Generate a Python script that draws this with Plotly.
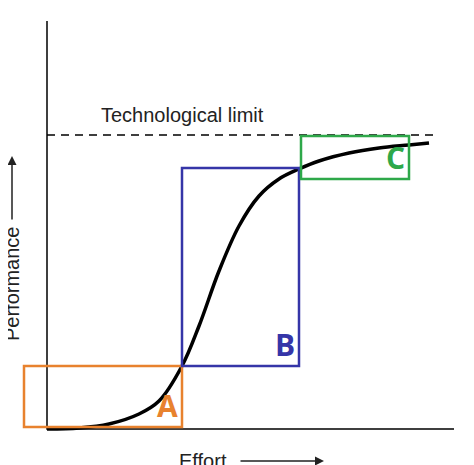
import plotly.graph_objects as go

# data in pixel-like units: x = effort, y = performance (origin at axes corner)
effort = [0, 32, 62, 92, 112, 135, 152, 172, 192, 212, 232, 252, 272, 302, 332, 362, 382]
performance = [0, 1, 5, 15, 28, 63, 103, 158, 203, 233, 250, 260, 268, 276, 281, 284, 286]
limit = 294
boxes = [  # x0, x1, y0, y1, color, label
    (-23, 135, 2, 63, "#E8822E", "A"),
    (135, 252, 63, 261, "#3535A8", "B"),
    (254, 362, 250, 293, "#2EA84A", "C"),
]

F = "Liberation Sans"
fig = go.Figure()
fig.add_trace(go.Scatter(x=effort, y=performance, mode="lines", line=dict(color="black", width=3.5, shape="spline"), hoverinfo="skip"))
fig.add_trace(go.Scatter(x=[0, 392], y=[limit, limit], mode="lines", line=dict(color="black", width=1.3, dash="8px,6px"), hoverinfo="skip"))
fig.add_trace(go.Scatter(x=[0, 0, 407], y=[408, 0, 0], mode="lines", line=dict(color="black", width=1.5), hoverinfo="skip"))
for x0, x1, y0, y1, c, lab in boxes:
    fig.add_shape(type="rect", x0=x0, x1=x1, y0=y0, y1=y1, line=dict(color=c, width=2.5))
    fig.add_annotation(x=x1 - 2, y=y0 - 1, text="<b>" + lab + "</b>", showarrow=False, xanchor="right", yanchor="bottom",
                       font=dict(size=30, color=c, family="Open Sans"))
fig.add_annotation(x=52, y=314, text="Technological limit", showarrow=False, xanchor="left",
                   font=dict(size=20, color="#222", family=F))
fig.add_annotation(x=156, y=-32, text="Effort", showarrow=False, font=dict(size=20, color="#222", family=F))
fig.add_annotation(x=277, y=-32, ax=192, ay=-32, xref="x", yref="y", axref="x", ayref="y", text="",
                   showarrow=True, arrowhead=2, arrowsize=1.2, arrowwidth=1.5, arrowcolor="#222")
fig.add_annotation(x=-35, y=145, text="Performance", showarrow=False, textangle=-90,
                   font=dict(size=20, color="#222", family=F))
fig.add_annotation(x=-35, y=273, ax=-35, ay=208, xref="x", yref="y", axref="x", ayref="y", text="",
                   showarrow=True, arrowhead=2, arrowsize=1.2, arrowwidth=1.5, arrowcolor="#222")
fig.update_layout(width=474, height=465, margin=dict(l=0, r=0, t=0, b=0), showlegend=False,
                  plot_bgcolor="white", paper_bgcolor="white",
                  xaxis=dict(range=[-39, 435], visible=False),
                  yaxis=dict(range=[-44, 421], visible=False))
fig.write_html("out.html")
